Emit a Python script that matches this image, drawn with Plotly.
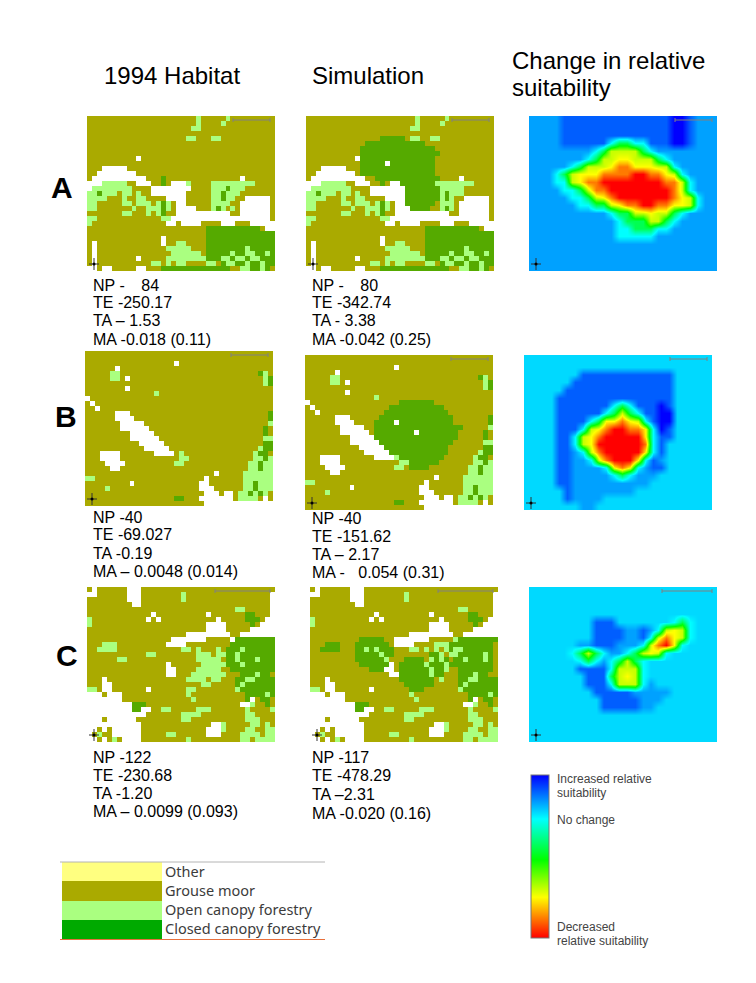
import plotly.graph_objects as go

WIDTH = 756
HEIGHT = 983

# habitat grids: . grouse moor, w other (white on the maps), o open canopy, c closed canopy
HAB_A = [
    "......................o.....o.........",
    "......................o....o..........",
    ".....................oo...............",
    "......................................",
    "....................oo...oo...........",
    "......................................",
    "......................................",
    "......................................",
    "..........w...........................",
    "......................................",
    "...wwwww..............................",
    "..wwwwwwww............................",
    ".wwwwwwwwwww...c...............w......",
    "wwwooooo..www..c.wwwo....ooooooooo....",
    "woooooooo....wwwwwwww....ooocooo......",
    "oocooo.oo.o..wwwwwww.....oocooo.......",
    "oooo...o..oo....wwww.....oocoo..wwwww.",
    "oo.....oo.ooo.oco.ww.....oooo..wwwwww.",
    "oo.......o..oooco.wwww...oco.o.wwwwww.",
    ".......oo...o.oc..wwwwwwwwwww..wwwwww.",
    "oo.............oowwwwwwwwwwwwwwwwwwww.",
    "o...............ww.wwww....www...wwwww",
    "........................ccccccccccc.ww",
    "........................cccccccccccccc",
    "...............w........cccccccccccccc",
    ".w.............w..oo....cccccccccccccc",
    ".w..............ooooo...ccccccccoccccc",
    ".w...............oooooo.cccccoccooccoc",
    ".w........w.....oooooooocccoocoocooccc",
    ".w...........oo.o.oo....oo.cooccoccocc",
    "ww.ww.....ww...cccccccccccccc..ooccoc",
]
SIM_A = [
    "......................o.....o.........",
    "......................o....o..........",
    ".....................oo...............",
    "......................................",
    "...............ccccc.oo..oo...........",
    "............cccccccccccc..............",
    "...........ccccccccccccccc............",
    "...........cccccccccccccccc...........",
    "..........wccccccccccccccc............",
    "...........cccccwccccccccc............",
    "...wwwww...ccccccccccccccc............",
    "..wwwwwwww.ccccccccccccccc............",
    ".wwwwwwwwwww..ccccccccccccc....w......",
    "wwwooooo..www..c.wwcccccccoooooooo....",
    "woooooooo....wwwwwwwcccccccooooo......",
    "oocooo.oo.o..wwwwwwwcccccccocooo......",
    "oooo...o..oo....wwwwcccccccoco..wwwww.",
    "oo.....oo.ooo.oco.wwcccccc.ooo.wwwwww.",
    "oo.......o..oooco.wwwcccc..oco.wwwwww.",
    ".......oo...o.oc..wwwwwwwwwww..wwwwww.",
    "oo.............oowwwwwwwwwwwwwwwwwwww.",
    "o...............ww.wwww....www...wwwww",
    "........................ccccccccccc.ww",
    "........................cccccccccccccc",
    "...............w........cccccccccccccc",
    ".w.............w..oo....cccccccccccccc",
    ".w..............ooooo...ccccccccoccccc",
    ".w...............oooooo.cccccoccooccoc",
    ".w........w.....oooooooocccoocoocooccc",
    ".w...........oo.o.oo....oo.cooccoccocc",
    "ww.ww.....ww...cccccccccccccc..ooccoc",
]
HAB_B = [
    "......................................",
    "......................................",
    "..................w...................",
    "......w...............................",
    ".....oo............................co",
    ".....oo.w...........................oc",
    "....................................oc",
    "........w.............................",
    "..............o.......................",
    "w.....................................",
    ".w....................................",
    "..w...................................",
    "......www............................c",
    "......wwww...........................c",
    ".......wwwww.........................o",
    ".......wwwwww.......................c.",
    ".........wwwww......................c.",
    ".........wwwwww.....................oo",
    "...........wwwww....................cc",
    "............wwwww..................occ",
    "...wwww.......wwww.o..............occ",
    "...wwww............oo.............ooco",
    "....wwww..........oo.............oocoo",
    ".....ww..........................oocoo",
    "..........................w.....oooooo",
    "oo......................w.......oooooo",
    ".........w.............ww.......oocooo",
    "....o..................www......oocooo",
    "........................www.ww.oococo",
    "..................cc...wwwwwww.oooo.w",
    "........................wwwwwwwwwwwwww",
]
SIM_B = [
    "......................................",
    "......................................",
    "..................w...................",
    "......w...............................",
    ".....oo............................co",
    ".....oo.w...........................oc",
    "....................................oc",
    "........w.............................",
    "..............o.......................",
    "w..................ccccccc............",
    ".w...............ccccccccccc..........",
    "..w.............ccccccccccccc.........",
    "......www......ccccccccccccccc.......c",
    "......wwww....ccccwccccccccccc.......c",
    ".......wwwww..cccccccccccccccccc.....o",
    ".......wwwwww.ccccccccwcccccccc.....c.",
    ".........wwwwwccccccccccccccccc.....c.",
    ".........wwwwwwccccccccccccccc......oo",
    "...........wwwwwccccccccccccc.......cc",
    "............wwwwwcccccccccccc......occ",
    "...wwww.......wwwwoccccccccc......occ",
    "...wwww............oocccccc.......ooco",
    "....wwww..........oo.cccc........oocoo",
    ".....ww..........................oocoo",
    "..........................w.....oooooo",
    "oo......................w.......oooooo",
    ".........w.............ww.......oocooo",
    "....o..................www......oocooo",
    "........................www.ww.oococo",
    "..................cc...wwwwwww.oooo.w",
    "........................wwwwwwwwwwwwww",
]
HAB_C = [
    ".w......www...........................",
    "ww......www........o.................w",
    "........www........o.................w",
    ".........ww..........................w",
    "..............................oo.....w",
    ".............w..........w.......cc...w",
    "o...........w.w...........w.....ccc.ww",
    "o.......................wwww.....c.www",
    "........................wwww.....wwwww",
    "....................wwwwwwwww..wwwwwww",
    ".................wwwwwww.....wcccccccc",
    "...ooo..........wwww.........ccccccccc",
    "..oooo.............oo.o...o.cccoccccccc",
    "............oo........ooo.ooccoccccccc",
    "......oo..............ooooo.ccocccoccc",
    "................w......ooooocccocccccc",
    "................ww....ooooo..ccccccccc",
    "................ww...ooooooo...cccocc.",
    "...w................oooo.oo...ccoocccc",
    "...ww..................oo.....cocccccc",
    "oo.ww.......w.......oo........occccccc",
    "www.www.............o...........ccccoc",
    "wwwwwww..............o..........cw.cc",
    "wwwwwwwwwccc...................wwo..c",
    "wwwwwwwwwccww..oo.....ooo.......o....o",
    "wwwwwwwwwwww.......oooo.........oo....",
    "www.wwwwww.........oo...........ooo...",
    "wwwwwwwwwww..............wwo.....oo.o.",
    "ww.w.wwwwww.............wwwo....oo..oo",
    "w.o..wwwwww.....oo......www....oooo.oo",
    "ww.w.o.wwww.........o..........oo.oooo",
]
SIM_C = [
    ".w......www...........................",
    "ww......www........o.................w",
    "........www........o.................w",
    ".........ww..........................w",
    "..............................oo.....w",
    ".............w..........w.......cc...w",
    "o...........w.w...........w.....ccc.ww",
    "o.......................wwww.....c.www",
    "........................wwww.....wwwww",
    "....................wwwwwwwww..wwwwwww",
    "..........ccccc..wwwwwww.....occcccccc",
    "...ccc...ccccccc.wwww....oooccccccccc",
    "..cccc...ccococcc...oo.o.o.ocoocccccc",
    ".........cccccocc.......cco.oocccccoc",
    ".........cccccco...cccc.ococ.ccocccoc",
    "..........ccccccw.cccccocccoccccccccc",
    "............cccww.ccccccocco..ccccccc",
    "................wwccccccocc...cccocc.",
    "...w..............ccccccc.o...ccoocccc",
    "...ww..............cccccc.....cocccccc",
    "oo.ww.......w.......ccc.......occccccc",
    "www.www.............o...........ccccoc",
    "wwwwwww..............o..........cw.cc",
    "wwwwwwwwwccc...................wwo..c",
    "wwwwwwwwwccww..oo.....ooo.......o....o",
    "wwwwwwwwwwww.......oooo.........oo....",
    "www.wwwwww.........oo...........ooo...",
    "wwwwwwwwwww..............wwo.....oo.o.",
    "ww.w.wwwwww.............wwwo....oo..oo",
    "w.o..wwwwww.....oo......www....oooo.oo",
    "ww.w.o.wwww.........o..........oo.oooo",
]

# suitability grids, digits index SUIT_LEVELS
SUIT_A = [
    "777788888888888888998777",
    "777788888888888888998777",
    "777788888888888888998777",
    "777788888854455888998777",
    "777777775433334577777777",
    "777777754332233345777777",
    "777775433321122233577777",
    "777543222111100112357777",
    "777553211000000001135777",
    "777755431100000000135777",
    "777775543210000000123577",
    "777777554432110011223577",
    "777777777754433233457777",
    "777777777775444334577777",
    "777777777775544455777777",
    "777777777775555577777777",
    "777777777777777777777777",
    "777777777777777777777777",
    "777777777777777777777777",
    "777777777777777777777777",
]
SUIT_B = [
    "666666666666666666666666",
    "666666666666666666666666",
    "666666688888888888866666",
    "666666888888888888866666",
    "666668888888888888866666",
    "666688888888888888866666",
    "666688888885458889866666",
    "666688888854345889966666",
    "666688885422123589966666",
    "666688853210011259866666",
    "666688532100000258866666",
    "666688532000000158666666",
    "666688753100000258666666",
    "666688775310002587666666",
    "666688777752125788666666",
    "666688777775457776666666",
    "666688777777777766666666",
    "666668777777776666666666",
    "666668777766666666666666",
    "666666677666666666666666",
]
SUIT_C = [
    "666666666666666666666666",
    "666666666666666666666666",
    "666666666666666666666666",
    "666666666666666666666666",
    "666666668886666666545666",
    "666666668888778753235666",
    "666666668888778531235666",
    "666666778887775310256666",
    "666665434577543235666666",
    "666666545754345666666666",
    "666666888853335666666666",
    "666666688843235666666666",
    "666666688853335766666666",
    "666666668888877777666666",
    "666666666888887776666666",
    "666666666888887766666666",
    "666666666666666666666666",
    "666666666666666666666666",
    "666666666666666666666666",
    "666666666666666666666666",
]
SUIT_LEVELS = [0.0, 1.2, 2.5, 3.0, 5.6, 7.3, 7.7, 8.3, 9.0, 10.0]

COL_TITLES = ["1994 Habitat", "Simulation"]
ROW_LABELS = ["A", "B", "C"]
STATS = {
    "A1": ["NP -\u00a0\u00a0\u00a0\u200984", "TE -250.17", "TA \u2013 1.53", "MA -0.018 (0.11)"],
    "A2": ["NP -\u00a0\u00a0\u00a0\u200980", "TE -342.74", "TA - 3.38", "MA -0.042 (0.25)"],
    "B1": ["NP -40", "TE -69.027", "TA -0.19", "MA \u2013 0.0048 (0.014)"],
    "B2": ["NP -40", "TE -151.62", "TA \u2013 2.17", "MA -\u00a0\u00a0\u00a00.054 (0.31)"],
    "C1": ["NP -122", "TE -230.68", "TA -1.20", "MA \u2013 0.0099 (0.093)"],
    "C2": ["NP -117", "TE -478.29", "TA \u20132.31", "MA -0.020 (0.16)"],
}
LEGEND_LABELS = ["Other", "Grouse moor", "Open canopy forestry", "Closed canopy forestry"]
LEGEND_COLORS = ["#FFFF80", "#AAAA00", "#AAFF80", "#00AA00"]

MAP_COLORS = {".": 1, "w": 0, "o": 2, "c": 3}
MAP_SCALE = [[0, "#FFFFFF"], [0.25, "#FFFFFF"], [0.25, "#AAAA00"], [0.5, "#AAAA00"],
             [0.5, "#AAFF80"], [0.75, "#AAFF80"], [0.75, "#55AA00"], [1, "#55AA00"]]
SUIT_SCALE = [[0, "#FF0000"], [0.25, "#FFFF00"], [0.48, "#00FF00"], [0.73, "#00FFFF"], [1, "#0000FF"]]


def px(x):
    return x / WIDTH


def py(y):
    return 1 - y / HEIGHT


def parse_map(rows):
    return [[MAP_COLORS[ch] for ch in row.ljust(38, ".")[:38]] for row in rows]


def parse_suit(rows):
    return [[SUIT_LEVELS[int(ch)] for ch in row] for row in rows]


fig = go.Figure()
layout = {}
shapes = []
annotations = []
axis_no = 0


def add_panel(trace, left, top, w=188, h=155, yextra=None):
    global axis_no
    axis_no += 1
    sfx = "" if axis_no == 1 else str(axis_no)
    trace.update(xaxis="x" + sfx, yaxis="y" + sfx)
    fig.add_trace(trace)
    layout["xaxis" + sfx] = dict(domain=[px(left), px(left + w)], visible=False,
                                 anchor="y" + sfx, fixedrange=True)
    ya = dict(domain=[py(top + h), py(top)], visible=False, anchor="x" + sfx,
              autorange="reversed", fixedrange=True)
    if yextra:
        ya.update(yextra)
    layout["yaxis" + sfx] = ya


def add_map_furniture(left, top, bar_len=37):
    # scale bar, top right
    right = left + 188
    shapes.append(dict(type="line", xref="paper", yref="paper", x0=px(right - 5 - bar_len), x1=px(right - 5),
                       y0=py(top + 4), y1=py(top + 4), line=dict(color="#808080", width=1)))
    for xx in (right - 5 - bar_len, right - 5):
        shapes.append(dict(type="line", xref="paper", yref="paper", x0=px(xx), x1=px(xx),
                           y0=py(top + 2), y1=py(top + 6), line=dict(color="#808080", width=1)))
    # north arrow, bottom left
    cx, cy = left + 7, top + 148
    shapes.append(dict(type="line", xref="paper", yref="paper", x0=px(cx - 5), x1=px(cx + 5),
                       y0=py(cy), y1=py(cy), line=dict(color="#333333", width=1)))
    shapes.append(dict(type="line", xref="paper", yref="paper", x0=px(cx), x1=px(cx),
                       y0=py(cy - 6), y1=py(cy + 6), line=dict(color="#333333", width=1)))
    shapes.append(dict(type="circle", xref="paper", yref="paper", x0=px(cx - 1.5), x1=px(cx + 1.5),
                       y0=py(cy - 1.5), y1=py(cy + 1.5), fillcolor="#000000", line=dict(width=0)))


def add_text(x, y, text, size=16, color="#000000", family="Liberation Sans", bold=False):
    annotations.append(dict(xref="paper", yref="paper", x=px(x), y=py(y), text=f"<b>{text}</b>" if bold else text,
                            showarrow=False, xanchor="left", yanchor="middle", borderpad=0, borderwidth=0,
                            font=dict(size=size, color=color, family=family)))


map_panels = [
    (HAB_A, 87, 116, 37), (SIM_A, 306, 116, 37),
    (HAB_B, 85, 351, 37), (SIM_B, 305, 355, 37),
    (HAB_C, 87, 587, 55), (SIM_C, 310, 587, 55),
]
for rows, left, top, bar in map_panels:
    add_panel(go.Heatmap(z=parse_map(rows), colorscale=MAP_SCALE, zmin=-0.5, zmax=3.5, showscale=False,
                         hoverinfo="skip"), left, top)
    add_map_furniture(left, top, bar)

suit_panels = [(SUIT_A, 529, 116, 37), (SUIT_B, 524, 355, 37), (SUIT_C, 529, 587, 50)]
for rows, left, top, bar in suit_panels:
    add_panel(go.Heatmap(z=parse_suit(rows), coloraxis="coloraxis", zsmooth="best", hoverinfo="skip"), left, top)
    add_map_furniture(left, top, bar)

# habitat legend: one column heatmap, labels are the y ticks
legend_scale = []
for i, c in enumerate(LEGEND_COLORS):
    legend_scale += [[i / 4, c], [(i + 1) / 4, c]]
add_panel(go.Heatmap(z=[[i] for i in range(4)], y=LEGEND_LABELS, colorscale=legend_scale, zmin=-0.5, zmax=3.5,
                     showscale=False, hoverinfo="skip"), 62, 862, w=100, h=77,
          yextra=dict(visible=True, side="right", type="category", showgrid=False, zeroline=False, showline=False,
                      ticks="", ticklabelstandoff=2, tickfont=dict(family="Noto Sans", size=14.5, color="#3C3C3C")))
shapes.append(dict(type="line", xref="paper", yref="paper", x0=px(60), x1=px(325), y0=py(862), y1=py(862),
                   line=dict(color="#B4B4B4", width=1)))
shapes.append(dict(type="line", xref="paper", yref="paper", x0=px(60), x1=px(325), y0=py(939.5), y1=py(939.5),
                   line=dict(color="#E8703C", width=1)))

# titles
add_text(104, 75.5, COL_TITLES[0], size=24)
add_text(312, 75.5, COL_TITLES[1], size=24)
add_text(512, 60.5, "Change in relative", size=24)
add_text(512, 87.5, "suitability", size=24)

# row letters
add_text(51, 187, ROW_LABELS[0], size=30, bold=True)
add_text(55, 417, ROW_LABELS[1], size=30, bold=True)
add_text(56, 655, ROW_LABELS[2], size=30, bold=True)

# patch statistics under the maps
stat_lines = [("A1", 93, [285, 303, 321, 339]), ("A2", 312, [285, 303, 321, 339]),
              ("B1", 93, [517, 534, 553, 571]), ("B2", 312, [518, 536, 554, 572]),
              ("C1", 93, [757, 775, 793, 811]), ("C2", 312, [757, 775, 794, 813])]
for key, x, ys in stat_lines:
    for line, y in zip(STATS[key], ys):
        add_text(x, y, line)

# colour bar captions
for text, y in [("Increased relative", 779), ("suitability", 793), ("No change", 820),
                ("Decreased", 927), ("relative suitability", 941)]:
    add_text(557, y, text, size=12, color="#444444")

fig.update_layout(
    width=WIDTH,
    height=HEIGHT,
    margin=dict(l=0, r=0, t=0, b=0, autoexpand=False),
    paper_bgcolor="white",
    plot_bgcolor="white",
    shapes=shapes,
    annotations=annotations,
    coloraxis=dict(colorscale=SUIT_SCALE, cmin=0, cmax=10, colorbar=dict(
        x=px(531), xanchor="left", xref="paper", y=py(775), yanchor="top", yref="paper",
        thickness=18, thicknessmode="pixels", len=163, lenmode="pixels", xpad=0, ypad=0,
        showticklabels=False, ticks="", outlinewidth=1, outlinecolor="#777777", title=dict(text=""))),
    **layout,
)

fig.write_html("out.html", config=dict(displayModeBar=False), post_script="document.body.style.margin='0';")
